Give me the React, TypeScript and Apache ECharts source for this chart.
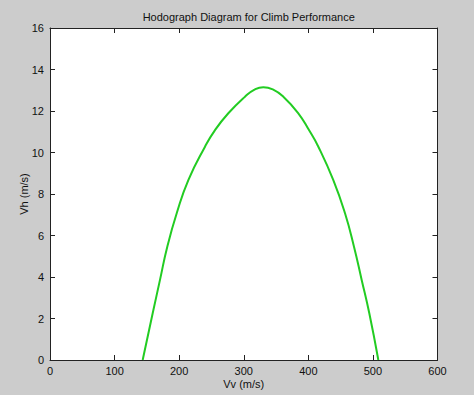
import React, { useEffect, useRef } from "react";
import * as echarts from "echarts";

const titleText = "Hodograph Diagram for Climb Performance";
const xName = "Vv (m/s)";
const yName = "Vh (m/s)";
const vv = [143.5, 159, 170.3, 181.6, 196.2, 214.2, 240, 255.5, 276.1, 301.9, 316, 330.3, 345, 361.3, 384.5, 401, 415.5, 438.7, 456.8, 470.7, 482.6, 494.4, 508.4];
const vh = [0, 2.25, 3.86, 5.46, 7.07, 8.67, 10.28, 11.08, 11.89, 12.69, 13.02, 13.15, 13.04, 12.69, 11.89, 11.08, 10.28, 8.67, 7.07, 5.46, 3.86, 2.25, 0];

const FONT = "Liberation Sans, Arial, sans-serif";

export default function App() {
  const ref = useRef<HTMLDivElement>(null);
  useEffect(() => {
    if (!ref.current) return;
    const chart = echarts.init(ref.current, undefined, { renderer: "svg" });
    const axisLine = () => ({ show: true, onZero: false, lineStyle: { color: "#222", width: 1 } });
    const tick = () => ({ show: true, inside: true, length: 5, lineStyle: { color: "#222", width: 1 } });
    const label = () => ({ color: "#111", fontSize: 11, fontFamily: FONT });
    chart.setOption({
      animation: false,
      backgroundColor: "#cccccc",
      title: {
        text: titleText,
        left: 243.75,
        textAlign: "center",
        top: 6,
        textStyle: { fontSize: 11, fontWeight: "normal", color: "#111", fontFamily: FONT },
      },
      grid: { left: 50, right: 36.5, top: 28, bottom: 35, show: true, backgroundColor: "#ffffff", borderWidth: 0 },
      xAxis: [
        {
          type: "value", min: 0, max: 600, interval: 100, position: "bottom",
          axisLine: axisLine(), axisTick: tick(), splitLine: { show: false },
          axisLabel: { ...label(), margin: 5 },
          name: xName, nameLocation: "middle", nameGap: 18, nameMoveOverlap: false,
          nameTextStyle: { ...label(), verticalAlign: "top" },
        },
        {
          type: "value", min: 0, max: 600, interval: 100, position: "top",
          axisLine: axisLine(), axisTick: tick(), splitLine: { show: false }, axisLabel: { show: false },
        },
      ],
      yAxis: [
        {
          type: "value", min: 0, max: 16, interval: 2, position: "left",
          axisLine: axisLine(), axisTick: tick(), splitLine: { show: false },
          axisLabel: { ...label(), margin: 6 },
          name: yName, nameLocation: "middle", nameGap: 21, nameMoveOverlap: false,
          nameTextStyle: label(),
        },
        {
          type: "value", min: 0, max: 16, interval: 2, position: "right",
          axisLine: axisLine(), axisTick: tick(), splitLine: { show: false }, axisLabel: { show: false },
        },
      ],
      series: [
        {
          type: "line",
          xAxisIndex: 0,
          yAxisIndex: 0,
          data: vv.map((x, i) => [x, vh[i]]),
          smooth: 0.5,
          showSymbol: false,
          lineStyle: { color: "#22cc22", width: 2 },
          itemStyle: { color: "#22cc22" },
        },
      ],
    });
    return () => chart.dispose();
  }, []);
  return <div ref={ref} style={{ width: 474, height: 395, position: "absolute", left: 0, top: 0 }} />;
}
